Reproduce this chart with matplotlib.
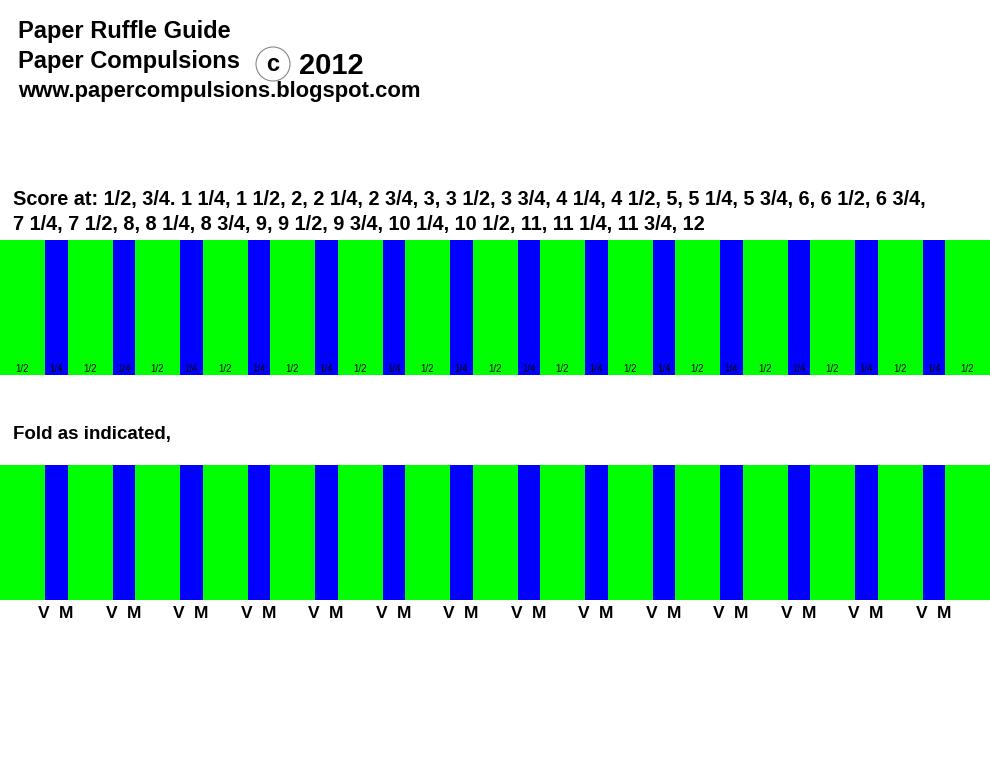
import matplotlib
matplotlib.use("Agg")
import matplotlib.pyplot as plt
from matplotlib.patches import Circle

# blue score bands, start positions in inches (each 1/4 in wide)
blue_starts = [0.5, 1.25, 2.0, 2.75, 3.5, 4.25, 5.0, 5.75, 6.5, 7.25, 8.0, 8.75, 9.5, 10.25]
blue_width = 0.25
strip_len = 11.0
green_labels = ["1/2"] * 15
blue_labels = ["1/4"] * 14
fold_labels = ("V", "M")

score_lines = [
    "Score at: 1/2, 3/4. 1 1/4, 1 1/2, 2, 2 1/4, 2 3/4, 3, 3 1/2, 3 3/4, 4 1/4, 4 1/2, 5, 5 1/4, 5 3/4, 6, 6 1/2, 6 3/4,",
    "7 1/4, 7 1/2, 8, 8 1/4, 8 3/4, 9, 9 1/2, 9 3/4, 10 1/4, 10 1/2, 11, 11 1/4, 11 3/4, 12",
]

PX = 90  # pixels per inch
GREEN = "#00ff00"
BLUE = "#0000ff"

fig = plt.figure(figsize=(9.9, 7.65), dpi=100)
ax = fig.add_axes([0, 0, 1, 1])
ax.set_xlim(0, 990)
ax.set_ylim(765, 0)
ax.axis("off")
font = "Liberation Sans"


def strip(y0, h):
    ax.bar(0, h, width=strip_len * PX, bottom=y0, align="edge", color=GREEN, linewidth=0)
    ax.bar([s * PX for s in blue_starts], h, width=blue_width * PX, bottom=y0,
           align="edge", color=BLUE, linewidth=0)


# header
ax.text(18, 31, "Paper Ruffle Guide", fontsize=17, family=font, weight="bold", va="center")
ax.text(18, 61, "Paper Compulsions", fontsize=17, family=font, weight="bold", va="center")
ax.add_patch(Circle((273, 64), 17, fill=False, ec="#888888", lw=0.8))
ax.text(273, 64, "c", fontsize=17, family=font, weight="bold", ha="center", va="center")
ax.text(299, 66, "2012", fontsize=21, family=font, weight="bold", va="center")
ax.text(18, 91, "www.papercompulsions.blogspot.com", fontsize=15.8, family=font, weight="bold",
        va="center")

# score strip
for i, line in enumerate(score_lines):
    ax.text(13, 199 + i * 25, line, fontsize=14.3, family=font, weight="bold", va="center")
strip(240, 135)
edges = [0] + [b for s in blue_starts for b in (s, s + blue_width)] + [strip_len]
for i, lab in enumerate(green_labels):
    x = (edges[2 * i] + edges[2 * i + 1]) / 2 * PX
    ax.text(x, 369, lab, fontsize=7, family=font, ha="center", va="center")
for s, lab in zip(blue_starts, blue_labels):
    ax.text((s + blue_width / 2) * PX, 369, lab, fontsize=7, family=font, ha="center", va="center")

# fold strip
ax.text(13, 434, "Fold as indicated,", fontsize=13.5, family=font, weight="bold", va="center")
strip(465, 135)
for s in blue_starts:
    ax.text(s * PX - 1, 613, fold_labels[0], fontsize=12.5, family=font, weight="bold",
            ha="center", va="center")
    ax.text((s + blue_width) * PX - 1, 613, fold_labels[1], fontsize=12.5, family=font,
            weight="bold", ha="center", va="center")

fig.savefig("out.png", dpi=100)
